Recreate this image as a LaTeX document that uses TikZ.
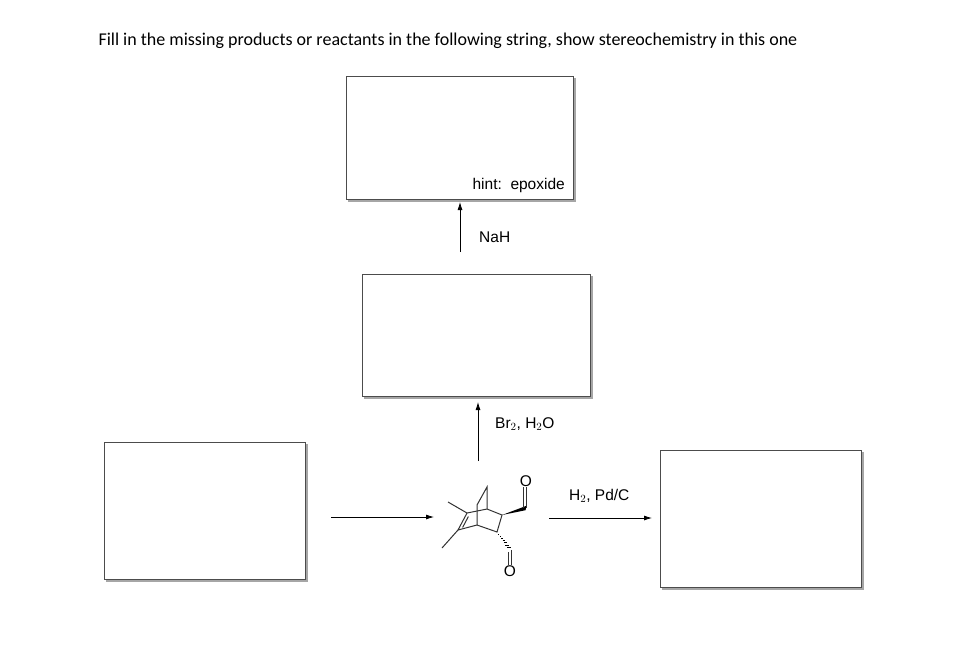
\documentclass[tikz,border=0pt]{standalone}
\usetikzlibrary{arrows.meta,calc}
\usepackage{fontspec}
\setmainfont{Liberation Sans}
\newfontfamily\titlefont{Carlito}
\begin{document}
\begin{tikzpicture}[x=1pt,y=-1pt,
  box/.style={draw=black!70,line width=1pt},
  shadow/.style={draw=black!35,line width=2pt},
  rarrow/.style={-{Latex[length=8pt,width=5pt]},line width=0.8pt},
  bond/.style={line width=1pt,black!80},
  lab/.style={font=\fontsize{15.5}{18}\selectfont,inner sep=0pt}]
\useasboundingbox[fill=white] (0,0) rectangle (968,656);
\node[anchor=west,font=\titlefont\fontsize{18}{21}\selectfont] (title) at (95,41) {Fill in the missing products or reactants in the following string, show stereochemistry in this one};
% boxes
\foreach \n/\a/\b/\c/\d in {top/346/76/573/199, mid/362/274/590/396, left/104/442/305/579, right/660/450/861/587}{
  \draw[shadow] (\a+2,\d+2) -- (\c+2,\d+2) -- (\c+2,\b+2);
  \draw[box] (\a,\b) rectangle (\c,\d);
}
\node[lab,anchor=south east] (hint) at (565,193) {hint:\ \ epoxide};
% arrows
\coordinate (a1s) at (460,252); \coordinate (a1e) at (460,202);
\draw[rarrow] (a1s) -- (a1e);
\node[lab,anchor=west] (nah) at (479,237) {NaH};
\coordinate (a2s) at (478,461); \coordinate (a2e) at (478,402);
\draw[rarrow] (a2s) -- (a2e);
\node[lab,anchor=west] (br) at (495,424) {Br$_2$, H$_2$O};
\coordinate (a3s) at (331,517); \coordinate (a3e) at (434,517);
\draw[rarrow] (a3s) -- (a3e);
\coordinate (a4s) at (549,518); \coordinate (a4e) at (652,518);
\draw[rarrow] (a4s) -- (a4e);
\node[lab,anchor=west] (h2) at (569,496) {H$_2$, Pd/C};
% molecule
\coordinate (bt) at (487,487);
\coordinate (bl) at (477,505);
\coordinate (c1) at (487,509);
\coordinate (c4) at (477,525);
\coordinate (au) at (467,513);
\coordinate (al) at (458,530);
\coordinate (c2) at (502,515);
\coordinate (c3) at (497,532);
\coordinate (m1) at (448,502);
\coordinate (m2) at (442,548);
\coordinate (f1) at (526,508);
\coordinate (f2) at (511,550);
\draw[bond] (c1) -- (bt) -- (bl) -- (c4);
\draw[bond] (c1) -- (c2) -- (c3) -- (c4);
\draw[bond] (c1) -- (au) -- (al) -- (c4);
\draw[bond] ($(au)!0.18!(al)+(3,0.5)$) -- ($(au)!0.82!(al)+(3,0.5)$);
\draw[bond] (au) -- (m1);
\draw[bond] (al) -- (m2);
\fill[black] (c2) -- ($(f1)+(0.4,-2.2)$) -- ($(f1)+(-0.4,2.2)$) -- cycle;
\foreach \t in {0.12,0.24,...,0.96}{
  \draw[line width=0.7pt] ($(c3)!\t!(f2)+(-\t*2.4,0)$) -- ($(c3)!\t!(f2)+(\t*2.4,0)$);
}
\node[lab] (o1) at (526,481) {O};
\node[lab] (o2) at (510,571) {O};
\draw[bond] (f1) -- (o1.south -| f1);
\draw[bond] ($(f1)+(-3,0)$) -- ($(o1.south -| f1)+(-3,0)$);
\draw[bond] (f2) -- (o2.north -| f2);
\draw[bond] ($(f2)+(-3,2)$) -- ($(o2.north -| f2)+(-3,0)$);
\end{tikzpicture}
\end{document}
